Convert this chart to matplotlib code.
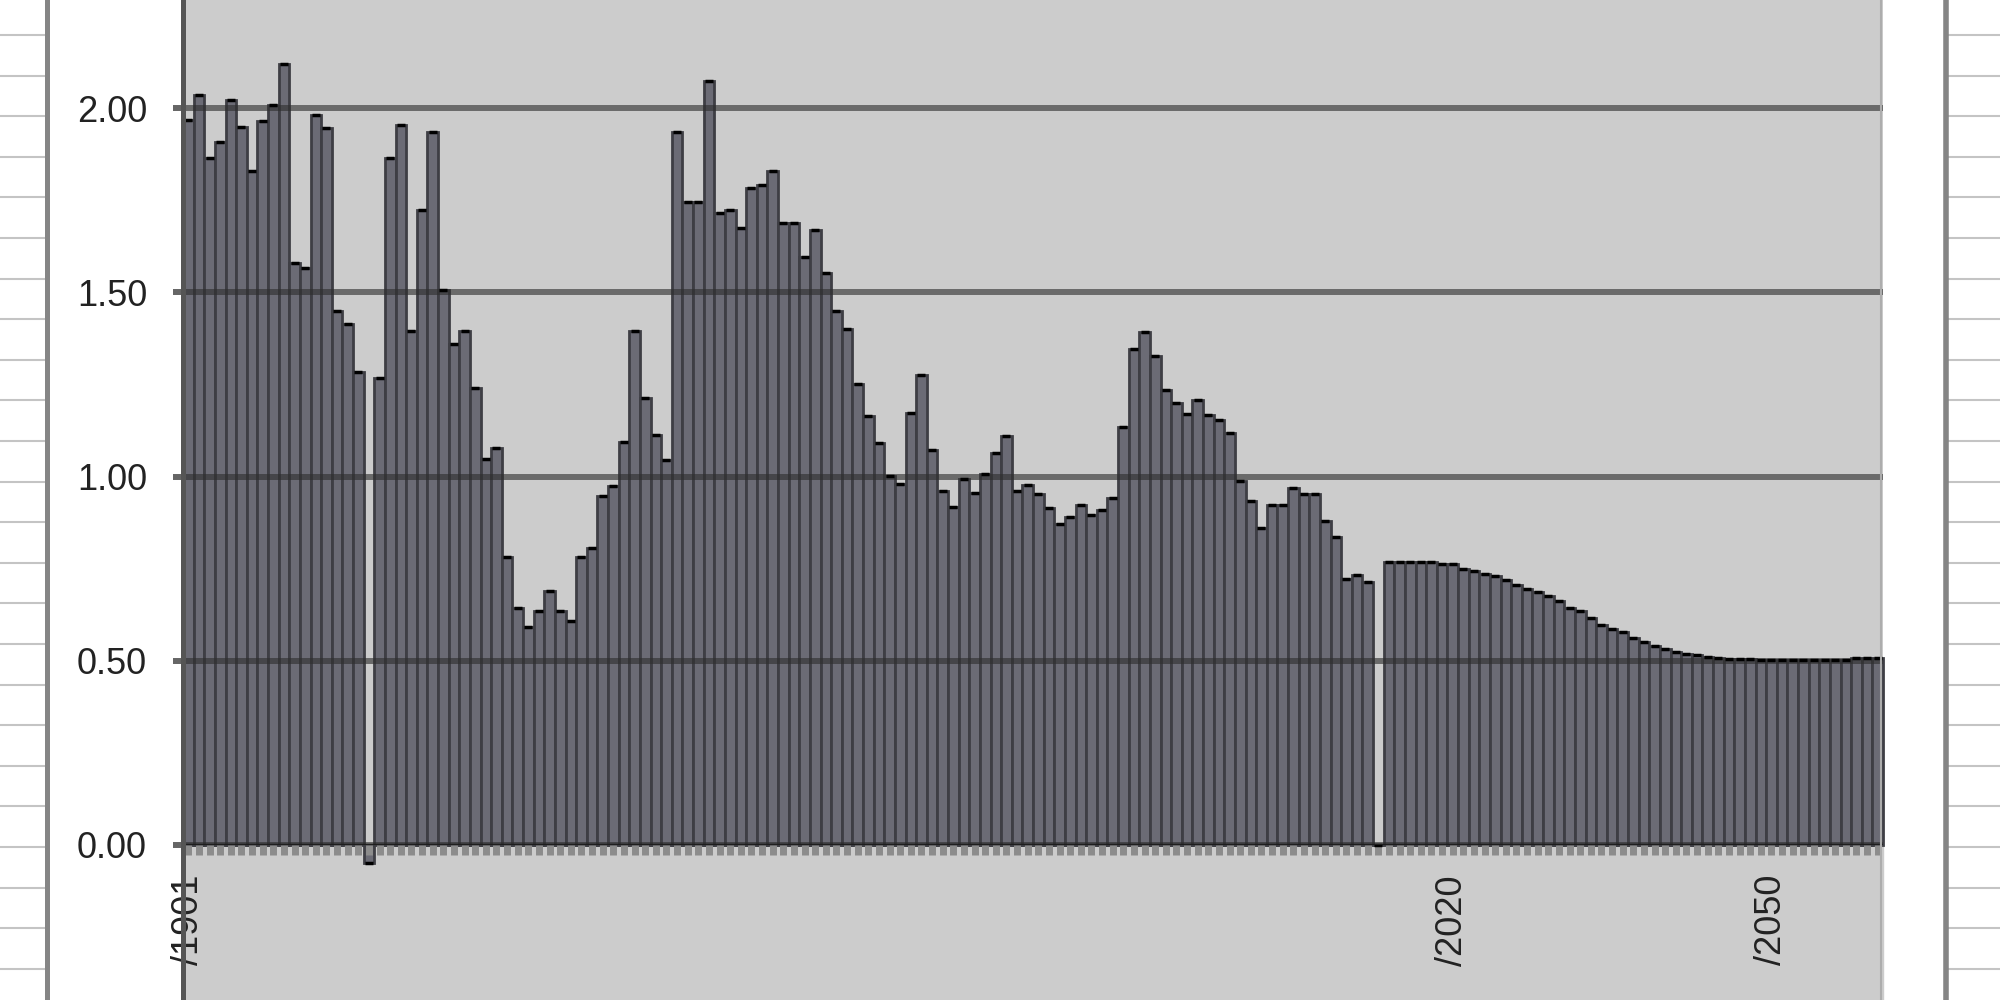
import numpy as np
import matplotlib
matplotlib.use('Agg')
import matplotlib.pyplot as plt
from matplotlib.lines import Line2D
from matplotlib.patches import Rectangle

plt.rcParams['font.family'] = ['Liberation Sans', 'DejaVu Sans']

# yearly values, 1901 - 2060
years = list(range(1901, 2061))
values = [
    1.967, 2.035, 1.865, 1.908, 2.021, 1.949, 1.828, 1.964, 2.007, 2.119,   # 1901-1910
    1.580, 1.567, 1.982, 1.946, 1.449, 1.413, 1.283, -0.05, 1.268, 1.865,   # 1911-1920
    1.953, 1.396, 1.723, 1.936, 1.506, 1.359, 1.396, 1.240, 1.048, 1.077,   # 1921-1930
    0.781, 0.643, 0.592, 0.636, 0.689, 0.636, 0.608, 0.781, 0.807, 0.947,   # 1931-1940
    0.973, 1.094, 1.396, 1.212, 1.112, 1.044, 1.936, 1.744, 1.744, 2.074,   # 1941-1950
    1.716, 1.723, 1.673, 1.783, 1.790, 1.828, 1.688, 1.688, 1.595, 1.669,   # 1951-1960
    1.551, 1.449, 1.401, 1.252, 1.163, 1.090, 1.001, 0.981, 1.173, 1.275,   # 1961-1970
    1.071, 0.961, 0.916, 0.992, 0.954, 1.008, 1.063, 1.109, 0.961, 0.977,   # 1971-1980
    0.953, 0.915, 0.872, 0.890, 0.924, 0.896, 0.909, 0.942, 1.134, 1.345,   # 1981-1990
    1.391, 1.326, 1.235, 1.199, 1.170, 1.208, 1.168, 1.153, 1.118, 0.988,   # 1991-2000
    0.933, 0.860, 0.924, 0.924, 0.970, 0.952, 0.952, 0.880, 0.835, 0.723,   # 2001-2010
    0.734, 0.714, 0.000, 0.768, 0.768, 0.768, 0.768, 0.768, 0.762, 0.762,   # 2011-2020
    0.750, 0.743, 0.736, 0.731, 0.718, 0.706, 0.696, 0.687, 0.677, 0.661,   # 2021-2030
    0.644, 0.634, 0.617, 0.598, 0.587, 0.578, 0.562, 0.551, 0.540, 0.532,   # 2031-2040
    0.524, 0.519, 0.515, 0.511, 0.508, 0.506, 0.505, 0.504, 0.503, 0.502,   # 2041-2050
    0.502, 0.502, 0.502, 0.502, 0.502, 0.502, 0.503, 0.507, 0.508, 0.508,   # 2051-2060
]
labelled_years = [1901, 2020, 2050]
ytick_vals = [0.0, 0.5, 1.0, 1.5, 2.0]

W, H = 2000, 1000          # output size in px
fig = plt.figure(figsize=(W / 100, H / 100), dpi=100, facecolor='white')

def fx(px):
    return px / W

def fy(py):                # py measured from the top of the image
    return 1 - py / H

bg = '#cccccc'
ax = fig.add_axes([fx(183), fy(845), fx(1700), 845 / H])
ax.set_facecolor(bg)

x = np.arange(len(years))
bars = ax.bar(x, values, width=1.0, color='#6b6b75', edgecolor='#3e3e44',
              linewidth=2.0, zorder=1)
for b in bars:
    b.set_clip_on(False)
ax.plot(x, values, ls='none', marker='_', ms=6, mew=2.5, color='black',
        zorder=3, clip_on=False)

ax.set_xlim(-0.5, len(years) - 0.5)
ax.set_ylim(0, 845 / 368.5)

# gridlines sit over the bars in the original
ax.set_axisbelow(False)
ax.grid(axis='y', color='#2e2e2e', alpha=0.62, lw=4.3)
ax.axhline(0, color='#1e1e1e', lw=2.5, zorder=4)

for s in ax.spines.values():
    s.set_visible(False)

ax.set_yticks(ytick_vals)
ax.set_yticklabels(['%.2f' % v for v in ytick_vals])
ax.tick_params(axis='y', length=7.2, width=4.3, color='#666666', pad=18.7,
               labelsize=26, labelcolor='#222222')

xlabels = ['/%d' % y if y in labelled_years else '' for y in years]
ax.set_xticks(x)
ax.set_xticklabels(xlabels, rotation=90)
ax.tick_params(axis='x', length=7.2, width=5, color='#8c8c8c', pad=14.4,
               labelsize=26, labelcolor='#222222')

# plot area continues below the category axis
fig.add_artist(Rectangle((fx(183), 0), fx(1700), fy(845), transform=fig.transFigure,
                         color=bg, zorder=-1))
# left axis line and right border of plot area
fig.add_artist(Line2D([fx(183)] * 2, [0, 1], color='#555555', lw=3.6, zorder=5))
fig.add_artist(Line2D([fx(1881)] * 2, [0, 1], color='#adadad', lw=1.5, zorder=5))

# spreadsheet rulings at both sides
for r in np.arange(35, H, 40.6):
    fig.add_artist(Line2D([0, fx(45)], [fy(r)] * 2, color='#c4c4c4', lw=1.5))
    fig.add_artist(Line2D([fx(1948), 1], [fy(r)] * 2, color='#c4c4c4', lw=1.5))
fig.add_artist(Line2D([fx(47)] * 2, [0, 1], color='#858585', lw=3.6))
fig.add_artist(Line2D([fx(1946)] * 2, [0, 1], color='#858585', lw=4.0))

fig.savefig('out.png', dpi=100, facecolor='white')
